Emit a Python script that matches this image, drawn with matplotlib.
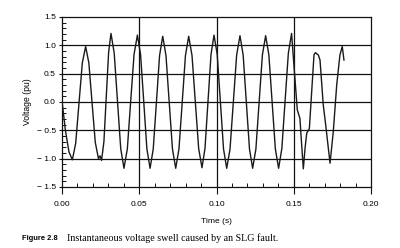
import matplotlib
matplotlib.use("Agg")
import matplotlib.pyplot as plt
from matplotlib.ticker import FixedLocator, FixedFormatter, MultipleLocator

# Time (s) and voltage (pu)
time_s = [
    0.0000, 0.0022, 0.0045, 0.0067,
    0.00885, 0.0110, 0.01315, 0.0153,
    0.01738, 0.01945, 0.02153, 0.0236, 0.0246, 0.0256,
    0.02713, 0.02865, 0.03018, 0.0317,
    0.0338, 0.0359, 0.0380, 0.0401,
    0.04228, 0.04445, 0.04663, 0.0488,
    0.05085, 0.0529, 0.05495, 0.0570,
    0.05905, 0.0611, 0.06315, 0.0652,
    0.0673, 0.0694, 0.0715, 0.0736,
    0.0757, 0.0778, 0.0799, 0.0820,
    0.08415, 0.0863, 0.08845, 0.0906,
    0.09255, 0.0945, 0.09645, 0.0984,
    0.10045, 0.1025, 0.10455, 0.1066,
    0.10875, 0.1109, 0.11305, 0.1152,
    0.11725, 0.1193, 0.12135, 0.1234,
    0.1255, 0.1276, 0.1297, 0.1318,
    0.1339, 0.1360, 0.1381, 0.1402,
    0.1423, 0.1444, 0.1465, 0.1486,
    0.1500, 0.1523, 0.1540, 0.1551, 0.1562,
    0.1573, 0.1584, 0.1601, 0.1616, 0.1631,
    0.1640, 0.1659, 0.1670, 0.1691, 0.1707,
    0.1724, 0.1735, 0.1756, 0.1778, 0.1799,
    0.1814, 0.1825,
]
voltage_pu = [
    0.02, -0.50, -0.88, -1.02,
    -0.73, -0.02, 0.69, 0.98,
    0.69, -0.01, -0.71, -1.00, -0.95, -1.03,
    -0.70, 0.09, 0.88, 1.21,
    0.86, 0.02, -0.82, -1.17,
    -0.83, 0.01, 0.84, 1.18,
    0.84, 0.01, -0.83, -1.17,
    -0.83, -0.01, 0.82, 1.16,
    0.82, -0.01, -0.83, -1.17,
    -0.83, -0.01, 0.82, 1.16,
    0.82, 0.00, -0.82, -1.16,
    -0.82, 0.01, 0.84, 1.18,
    0.84, 0.01, -0.83, -1.17,
    -0.83, 0.00, 0.83, 1.17,
    0.83, 0.00, -0.83, -1.17,
    -0.83, 0.00, 0.83, 1.17,
    0.83, 0.00, -0.83, -1.17,
    -0.82, 0.02, 0.86, 1.21,
    0.69, -0.14, -0.29, -0.75, -1.18,
    -0.82, -0.55, -0.47, 0.18, 0.83,
    0.87, 0.83, 0.74, -0.05, -0.41,
    -0.82, -1.08, -0.52, 0.30, 0.83,
    0.98, 0.74,
]

x_ticks = [0.00, 0.05, 0.10, 0.15, 0.20]
x_labels = ["0.00", "0.05", "0.10", "0.15", "0.20"]
y_ticks = [-1.5, -1.0, -0.5, 0.0, 0.5, 1.0, 1.5]
y_labels = ["\u2212 1.5", "\u2212 1.0", "\u2212 0.5", "0.0", "0.5", "1.0", "1.5"]

sans = ["Liberation Sans", "DejaVu Sans"]

fig = plt.figure(figsize=(4.0, 2.48), dpi=100)
ax = fig.add_axes([0.155, 0.246, 0.7725, 0.6855])

ax.set_xlim(0.0, 0.2)
ax.set_ylim(-1.5, 1.5)

for yv in y_ticks[1:-1]:
    ax.axhline(yv, color="#111111", lw=0.9, zorder=1)
for xv in x_ticks[1:-1]:
    ax.axvline(xv, color="#111111", lw=0.9, zorder=1)

ax.plot(time_s, voltage_pu, color="#1a1a1a", lw=1.0, zorder=3)

for s in ax.spines.values():
    s.set_color("#111111")
    s.set_linewidth(0.9)

ax.xaxis.set_major_locator(FixedLocator(x_ticks))
ax.xaxis.set_major_formatter(FixedFormatter(x_labels))
ax.xaxis.set_minor_locator(MultipleLocator(0.01))
ax.yaxis.set_major_locator(FixedLocator(y_ticks))
ax.yaxis.set_major_formatter(FixedFormatter(y_labels))
ax.yaxis.set_minor_locator(MultipleLocator(0.1))

ax.tick_params(axis="x", which="major", direction="out", length=5, width=0.8,
               color="#111111", pad=5)
ax.tick_params(axis="x", which="minor", direction="in", length=3, width=0.7,
               color="#111111")
ax.tick_params(axis="y", which="major", direction="out", length=2, width=0.8,
               color="#111111", pad=2.5)
ax.tick_params(axis="y", which="minor", direction="in", length=3, width=0.7,
               color="#111111")
for lab in ax.get_xticklabels() + ax.get_yticklabels():
    lab.set_fontfamily(sans)
    lab.set_fontsize(6)

ax.set_xlabel("Time (s)", fontsize=6.1, family=sans, labelpad=7)
ax.set_ylabel("Voltage (pu)", fontsize=6.2, family=sans, labelpad=3)

fig.text(0.054, 0.04, "Figure 2.8", fontsize=5.4, fontweight="bold",
         family=sans, va="center", ha="left")
fig.text(0.167, 0.04, "Instantaneous voltage swell caused by an SLG fault.",
         fontsize=7.2, family=["Liberation Serif", "DejaVu Serif"],
         va="center", ha="left")

fig.savefig("out.png", dpi=100)
